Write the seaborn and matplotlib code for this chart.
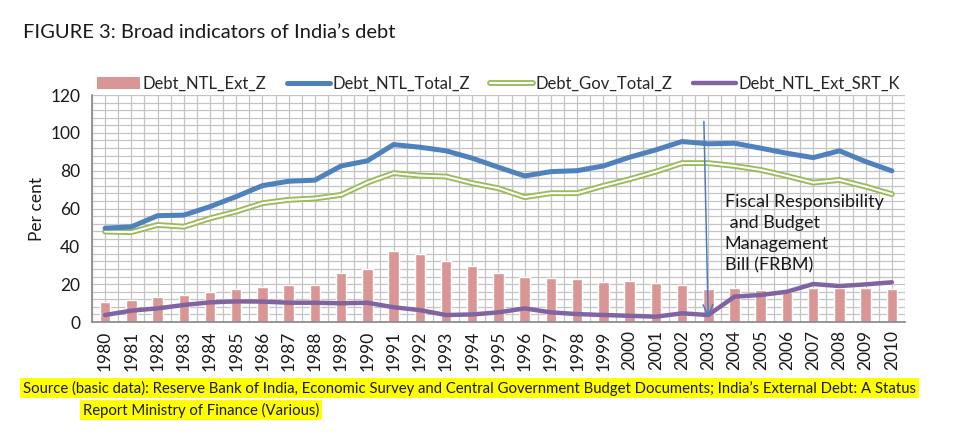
import matplotlib
matplotlib.use("Agg")
import matplotlib.pyplot as plt
import matplotlib.patheffects as pe
import seaborn as sns
import pandas as pd
from matplotlib.ticker import MultipleLocator
from matplotlib.patches import Patch
from matplotlib.lines import Line2D

# values (per cent)
years = [str(y) for y in range(1980, 2011)]
debt_ntl_ext_z = [10.8, 11.6, 13.4, 14.3, 15.7, 17.3, 18.7, 19.4, 19.8, 25.8,
                  27.9, 37.6, 36.0, 32.4, 29.6, 26.1, 23.6, 23.5, 22.6, 21.3,
                  21.9, 20.5, 19.6, 17.3, 17.8, 16.9, 16.0, 17.8, 17.8, 17.8, 17.3]
debt_ntl_total_z = [49.6, 50.3, 56.2, 56.5, 61.0, 66.3, 72.1, 74.4, 75.0, 82.5,
                    85.2, 93.8, 92.4, 90.5, 86.6, 81.8, 77.2, 79.5, 80.0, 82.5,
                    87.1, 91.0, 95.4, 94.2, 94.5, 91.9, 89.2, 86.9, 90.5, 84.8, 79.9]
debt_gov_total_z = [47.8, 47.5, 51.3, 50.4, 54.8, 58.4, 62.8, 64.6, 65.3, 67.2,
                    73.7, 78.7, 77.4, 76.9, 73.4, 70.7, 66.0, 68.1, 68.1, 72.0,
                    75.5, 79.5, 84.0, 84.0, 82.5, 80.4, 77.2, 73.7, 75.1, 71.6, 67.6]
debt_ntl_ext_srt_k = [3.7, 6.0, 7.2, 9.0, 10.4, 10.9, 10.8, 10.2, 10.2, 9.9,
                      10.2, 7.8, 6.3, 3.7, 4.0, 5.1, 7.2, 5.1, 4.2, 3.7,
                      3.3, 2.8, 4.6, 3.7, 13.4, 14.3, 16.0, 20.1, 19.0, 19.9, 21.0]

df = pd.DataFrame({
    "year": years,
    "idx": range(len(years)),
    "ext": debt_ntl_ext_z,
    "total": debt_ntl_total_z,
    "gov": debt_gov_total_z,
    "srt": debt_ntl_ext_srt_k,
})

BAR = "#d99694"
BLUE = "#4f81bd"
GREEN = "#9bbb59"
PURPLE = "#8064a2"
GRID = "#c4c4c4"
TXT = "#1a1a1a"

# green series is drawn as a hollow double line
double_line = [pe.Stroke(linewidth=4.2, foreground=GREEN), pe.Normal()]

sns.set_style("white")
plt.rcParams["font.family"] = ["Lato", "DejaVu Sans"]

fig = plt.figure(figsize=(9.61, 4.38), dpi=100)
ax = fig.add_axes([0.0957, 0.2648, 0.8460, 0.5183])

sns.barplot(data=df, x="year", y="ext", order=years, color=BAR, width=0.4,
            saturation=1, ax=ax, zorder=2)
sns.lineplot(data=df, x="idx", y="total", color=BLUE, lw=3.6, ax=ax, zorder=4)
sns.lineplot(data=df, x="idx", y="gov", color="white", lw=1.5, ax=ax, zorder=3,
             path_effects=double_line)
sns.lineplot(data=df, x="idx", y="srt", color=PURPLE, lw=3.2, ax=ax, zorder=4)

ax.set_xlim(-0.5, len(years) - 0.5)
ax.set_ylim(0, 120)
ax.set_yticks(range(0, 121, 20))
ax.yaxis.set_minor_locator(MultipleLocator(4))
ax.set_xticks(range(len(years)))
ax.set_xticklabels(years, rotation=90)
ax.set_xticks([i - 0.5 for i in range(len(years) + 1)], minor=True)

ax.set_axisbelow(True)
ax.grid(True, which="both", color=GRID, lw=0.9)
ax.tick_params(axis="x", which="major", length=0, labelsize=12.5, pad=6,
               colors=TXT)
ax.tick_params(axis="x", which="minor", length=5, color="#868686", width=1)
ax.tick_params(axis="y", which="major", length=5, color="#868686", width=1,
               labelsize=12.5, colors=TXT)
ax.tick_params(axis="y", which="minor", length=0)
for s in ["top", "right"]:
    ax.spines[s].set_visible(False)
for s in ["left", "bottom"]:
    ax.spines[s].set_color("#868686")
    ax.spines[s].set_linewidth(1.2)

ax.set_xlabel("")
ax.set_ylabel("Per cent", fontsize=12.5, color=TXT, labelpad=4)

# FRBM arrow and note
ax.annotate("", xy=(23.0, 0.8), xytext=(22.83, 107.5),
            arrowprops=dict(arrowstyle="->,head_length=0.8,head_width=0.35",
                            color="#4a7ebb", lw=1.1), zorder=6)
ax.text(23.62, 67.5, "Fiscal Responsibility\n and Budget\nManagement\nBill (FRBM)",
        fontsize=13, va="top", ha="left", linespacing=1.38,
        color=TXT, zorder=6)

handles = [
    Patch(facecolor=BAR, edgecolor="none"),
    Line2D([], [], color=BLUE, lw=3.6),
    Line2D([], [], color="white", lw=1.5, path_effects=double_line),
    Line2D([], [], color=PURPLE, lw=3.2),
]
labels = ["Debt_NTL_Ext_Z", "Debt_NTL_Total_Z", "Debt_Gov_Total_Z",
          "Debt_NTL_Ext_SRT_K"]
ax.legend(handles, labels, loc="center", bbox_to_anchor=(0.500, 1.05), ncol=4,
          frameon=False, fontsize=12, handlelength=2.6, handletextpad=0.15,
          columnspacing=1.2, borderaxespad=0)

fig.text(23 / 961, 1 - 33 / 438, "FIGURE 3: Broad indicators of India\u2019s debt",
         fontsize=14.5, va="center", ha="left", color=TXT)

src_box = dict(facecolor="#ffff00", edgecolor="none", pad=1.8)
fig.text(23 / 961, 1 - 388 / 438,
         "Source (basic data): Reserve Bank of India, Economic Survey and Central "
         "Government Budget Documents; India\u2019s External Debt: A Status",
         fontsize=10.7, va="center", ha="left", bbox=src_box, color=TXT)
fig.text(83 / 961, 1 - 410 / 438, "Report Ministry of Finance (Various)",
         fontsize=10.7, va="center", ha="left", bbox=src_box, color=TXT)

fig.savefig("out.png", dpi=100)
